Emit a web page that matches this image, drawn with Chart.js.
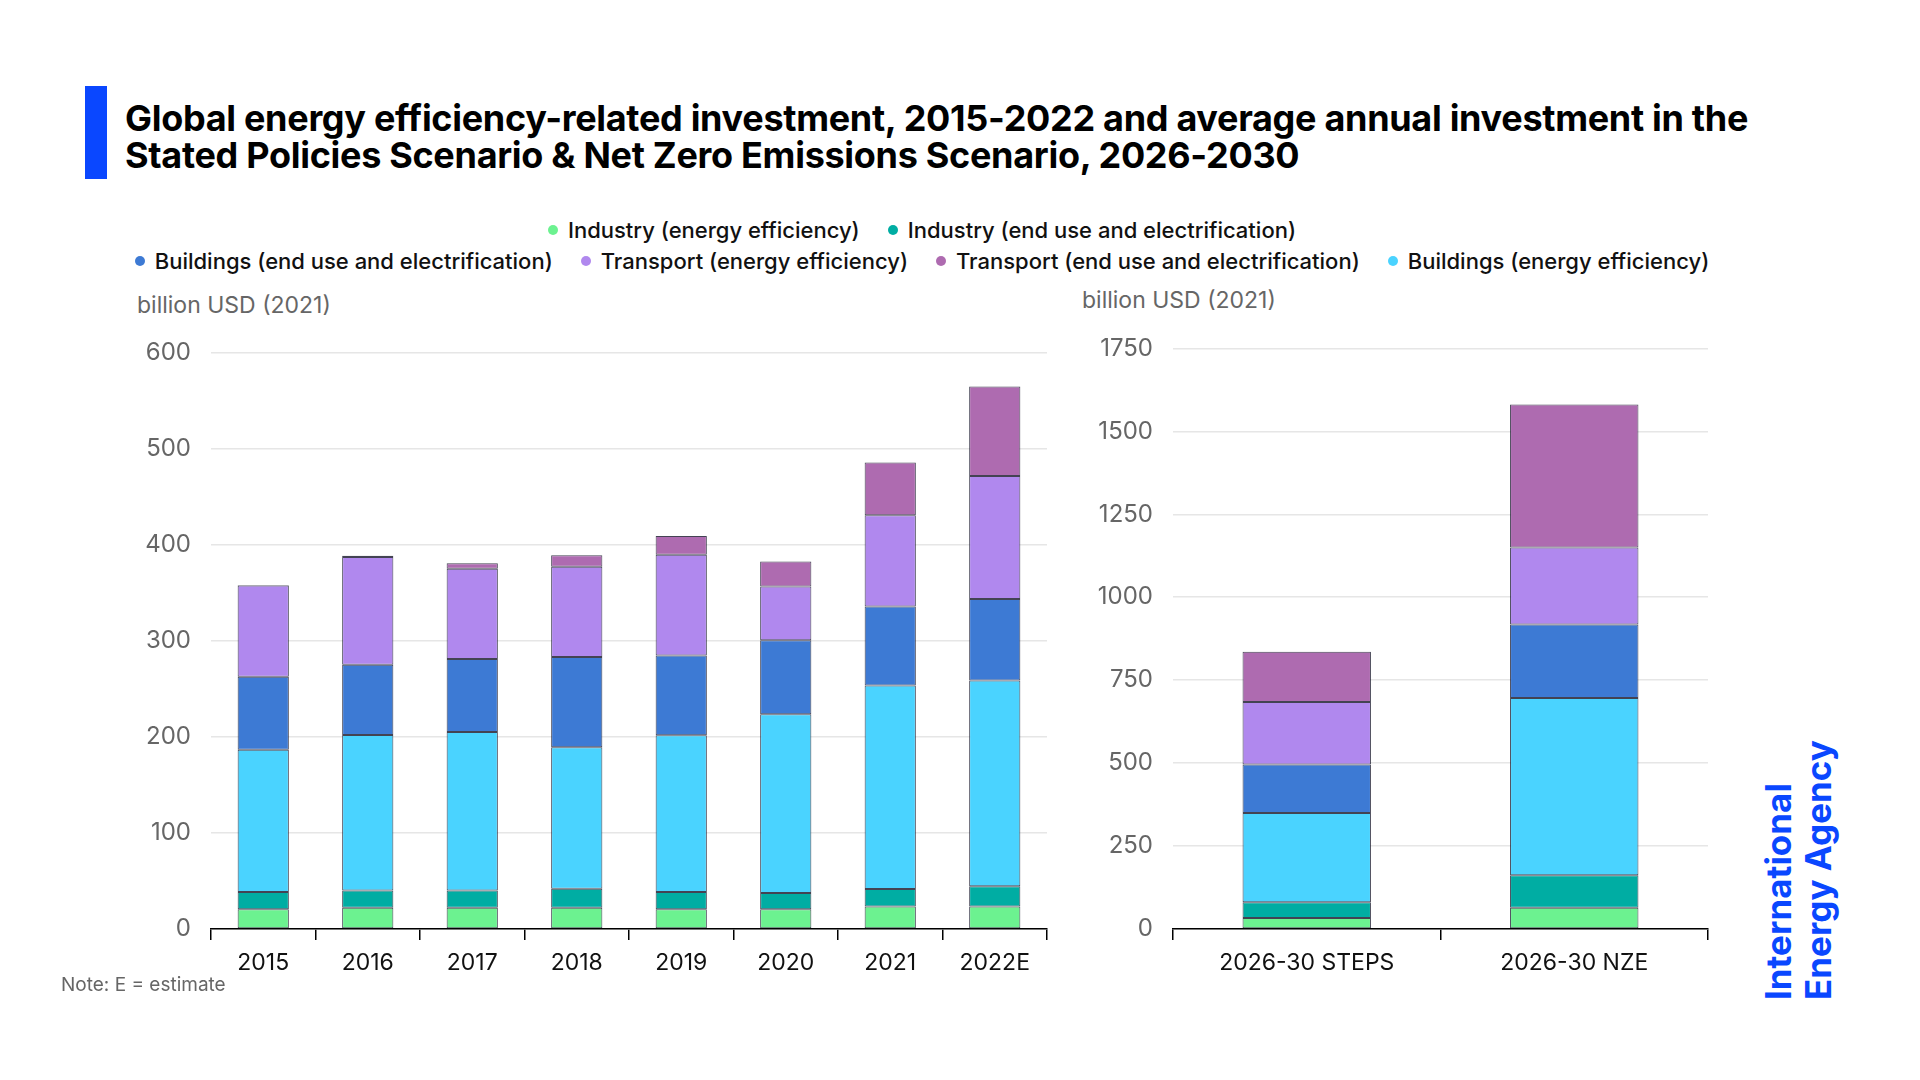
<!DOCTYPE html>
<html>
<head>
<meta charset="utf-8">
<script src="https://cdn.jsdelivr.net/npm/chart.js@4.4.1/dist/chart.umd.min.js"></script>
<style>
  html, body { margin: 0; padding: 0; background: #fff; }
  body { width: 1920px; height: 1080px; position: relative; overflow: hidden; font-family: Inter, "Noto Sans", sans-serif; }
  .abs { position: absolute; }
  #bar { left: 85px; top: 86px; width: 22px; height: 93px; background: #0a47ff; }
  #title { left: 125px; top: 100px; font-size: 36px; font-weight: 700; line-height: 37px; color: #000; letter-spacing: -0.3px; white-space: nowrap; }
  #legend { left: 0; top: 214px; width: 1844px; font-size: 22px; font-weight: 500; color: #111; }
  .row { display: flex; justify-content: center; height: 31px; align-items: center; }
  .item { display: flex; align-items: center; margin: 0 14px; white-space: nowrap; }
  .dot { width: 10px; height: 10px; border-radius: 50%; margin-right: 10px; }
  .unit { font-size: 23px; color: #666; white-space: nowrap; }
  #note { left: 61px; top: 973px; font-size: 19px; color: #666; }
  #logo { left: 1758px; top: 1000px; transform-origin: left top; transform: rotate(-90deg); color: #0a47ff; font-size: 35px; font-weight: 700; line-height: 40px; white-space: nowrap; }
</style>
</head>
<body>
<div id="bar" class="abs"></div>
<div id="title" class="abs">Global energy efficiency-related investment, 2015-2022 and average annual investment in the<br>Stated Policies Scenario &amp; Net Zero Emissions Scenario, 2026-2030</div>
<div id="legend" class="abs"></div>
<div class="abs unit" style="left:137px; top:291px;">billion USD (2021)</div>
<div class="abs unit" style="left:1082px; top:286px;">billion USD (2021)</div>
<div class="abs" style="left:137px; top:318px; width:912px; height:671px;"><canvas id="history"></canvas></div>
<div class="abs" style="left:1082px; top:314px; width:628px; height:675px;"><canvas id="outlook"></canvas></div>
<div id="note" class="abs">Note: E = estimate</div>
<div id="logo" class="abs">International<br>Energy Agency</div>

<script>
// categories
var years = ['2015', '2016', '2017', '2018', '2019', '2020', '2021', '2022E'];
var scenarios = ['2026-30 STEPS', '2026-30 NZE'];

// series names, bottom of the stack first
var seriesNames = [
  'Industry (energy efficiency)',
  'Industry (end use and electrification)',
  'Buildings (energy efficiency)',
  'Buildings (end use and electrification)',
  'Transport (energy efficiency)',
  'Transport (end use and electrification)'
];
var seriesColors = ['#6cf290', '#00ada3', '#4ad3ff', '#3d7ad4', '#b088ee', '#ae6bb0'];

// billion USD (2021), 2015-2022E
var industryEE = [20.5, 22, 22, 22, 20.5, 20.5, 23.5, 23.5];
var industryEU = [18, 18, 18, 20, 18, 17, 18, 21];
var buildingsEE = [148, 162, 165, 147, 163, 186, 212, 214];
var buildingsEU = [76, 73, 76, 94, 83, 77, 82, 85];
var transportEE = [95, 112, 94, 94, 105, 56, 95, 128];
var transportEU = [0.4, 1.5, 5.5, 12, 19.5, 26, 55, 93];

// average annual, 2026-30 STEPS and NZE
var industryEE2030 = [33, 64];
var industryEU2030 = [48, 98];
var buildingsEE2030 = [269, 534];
var buildingsEU2030 = [146, 222];
var transportEE2030 = [188, 232];
var transportEU2030 = [152, 431];

// y tick labels
var historyTicks = [0, 100, 200, 300, 400, 500, 600];
var outlookTicks = [0, 250, 500, 750, 1000, 1250, 1500, 1750];

// legend order as shown in the report
var legendRows = [[0, 1], [3, 4, 5, 2]];

var legend = document.getElementById('legend');
legendRows.forEach(function (row) {
  var div = document.createElement('div');
  div.className = 'row';
  row.forEach(function (i) {
    var item = document.createElement('div');
    item.className = 'item';
    var dot = document.createElement('span');
    dot.className = 'dot';
    dot.style.background = seriesColors[i];
    var txt = document.createElement('span');
    txt.textContent = seriesNames[i];
    item.appendChild(dot);
    item.appendChild(txt);
    div.appendChild(item);
  });
  legend.appendChild(div);
});

function makeDatasets(lists, pct) {
  return lists.map(function (vals, i) {
    return {
      label: seriesNames[i],
      data: vals,
      backgroundColor: seriesColors[i],
      borderColor: 'rgba(20, 20, 40, 0.8)',
      borderWidth: 1,
      borderSkipped: false,
      barPercentage: pct,
      categoryPercentage: 1
    };
  });
}

function makeOptions(ticks, yWidth, max, top) {
  return {
    responsive: true,
    maintainAspectRatio: false,
    animation: false,
    layout: { padding: { top: top, right: 2, left: 0, bottom: 0 } },
    plugins: {
      legend: { display: false },
      tooltip: { enabled: false }
    },
    scales: {
      x: {
        stacked: true,
        afterFit: function (scale) { scale.height = 60; },
        grid: {
          offset: true,
          drawOnChartArea: false,
          drawTicks: true,
          tickLength: 11,
          color: '#000',
          lineWidth: 1.5
        },
        border: { display: true, color: '#000', width: 1.5 },
        ticks: {
          color: '#111',
          padding: 9,
          font: { family: 'Inter', size: 23 }
        }
      },
      y: {
        stacked: true,
        min: 0,
        max: max,
        afterFit: function (scale) { scale.width = yWidth; },
        afterBuildTicks: function (scale) {
          scale.ticks = ticks.map(function (v) { return { value: v }; });
        },
        grid: { color: '#e6e6e6', lineWidth: 1.5, drawTicks: false },
        border: { display: false },
        ticks: {
          color: '#666',
          padding: 20,
          font: { family: 'Inter', size: 24 },
          callback: function (v) { return String(v); }
        }
      }
    }
  };
}

var historyChart = new Chart(document.getElementById('history'), {
  type: 'bar',
  data: {
    labels: years,
    datasets: makeDatasets([industryEE, industryEU, buildingsEE, buildingsEU, transportEE, transportEU], 0.49)
  },
  options: makeOptions(historyTicks, 74, 600, 11)
});

var outlookChart = new Chart(document.getElementById('outlook'), {
  type: 'bar',
  data: {
    labels: scenarios,
    datasets: makeDatasets([industryEE2030, industryEU2030, buildingsEE2030, buildingsEU2030, transportEE2030, transportEU2030], 0.48)
  },
  options: makeOptions(outlookTicks, 91, 1750, 13)
});
</script>
</body>
</html>
